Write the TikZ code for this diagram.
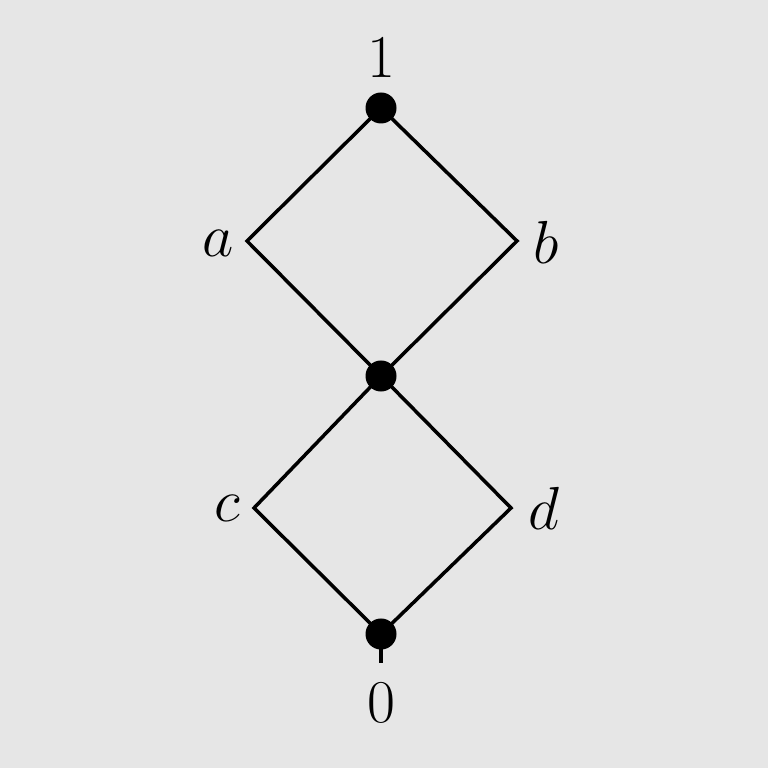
\documentclass[tikz,border=0pt]{standalone}
\begin{document}
\begin{tikzpicture}[x=0.01cm,y=-0.01cm,
  edge/.style={line width=1pt},
  dot/.style={circle,fill=black,inner sep=0pt,minimum size=0.31cm},
  lab/.style={inner sep=0pt,font=\fontsize{19}{22}\selectfont}]
\fill[fill={rgb,255:red,230;green,230;blue,230}] (0,0) rectangle (768,768);
\useasboundingbox (0,0) rectangle (768,768);
\coordinate (a) at (247,241);
\coordinate (b) at (517,241);
\coordinate (c) at (254,508);
\coordinate (d) at (511,508);
\coordinate (top) at (381,108);
\coordinate (mid) at (381,376);
\coordinate (bot) at (381,634);
\coordinate (tick) at (381,663);
\draw[edge] (top) -- (a) -- (mid) -- (b) -- cycle;
\draw[edge] (mid) -- (c) -- (bot) -- (d) -- cycle;
\draw[edge] (bot) -- (tick);
\node[dot] (ntop) at (top) {};
\node[dot] (nmid) at (mid) {};
\node[dot] (nbot) at (bot) {};
\node[lab] (l1) at (381,58) {$1$};
\node[lab] (la) at (218,243) {$a$};
\node[lab] (lb) at (546,242) {$b$};
\node[lab] (lc) at (227,508) {$c$};
\node[lab] (ld) at (544,508) {$d$};
\node[lab] (l0) at (381,703) {$0$};
\end{tikzpicture}
\end{document}
